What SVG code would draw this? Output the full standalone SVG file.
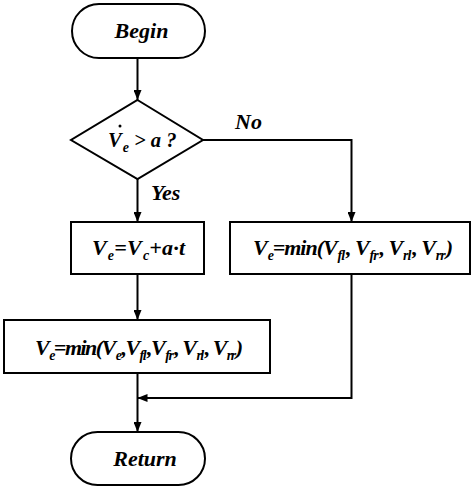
<svg xmlns="http://www.w3.org/2000/svg" width="474" height="490" viewBox="0 0 474 490">
  <style>
    .shape { fill: #ffffff; stroke: #000000; stroke-width: 2; }
    .wire { fill: none; stroke: #000000; stroke-width: 2; }
    .t { font-family: "Liberation Serif", "Times New Roman", serif; font-weight: bold; font-style: italic; font-size: 22px; fill: #000000; }
    .sub { font-size: 14px; }
    .cond { font-size: 20.5px; }
  </style>
  <defs>
    <marker id="arrow" viewBox="0 0 10 8" refX="10" refY="4" markerWidth="10" markerHeight="8" markerUnits="userSpaceOnUse" orient="auto">
      <path d="M0,0 L10,4 L0,8 Z" fill="#000000"/>
    </marker>
  </defs>

  <rect width="474" height="490" fill="#ffffff"/>

  <!-- connectors -->
  <g id="connectors">
    <path class="wire" d="M137.5,58 V100" marker-end="url(#arrow)"/>
    <path class="wire" d="M137.5,179 V222" marker-end="url(#arrow)"/>
    <path class="wire" d="M203,140 H351.5 V222" marker-end="url(#arrow)"/>
    <path class="wire" d="M137.5,274 V320" marker-end="url(#arrow)"/>
    <path class="wire" d="M351.5,274 V398 H137.5" marker-end="url(#arrow)"/>
    <path class="wire" d="M137.5,373 V432" marker-end="url(#arrow)"/>
    <text class="t" x="235" y="129">No</text>
    <text class="t" x="151" y="200">Yes</text>
  </g>

  <!-- start terminator -->
  <g id="begin">
    <rect class="shape" x="72" y="4" width="133" height="54" rx="27" ry="27"/>
    <text class="t" x="141.5" y="38" text-anchor="middle">Begin</text>
  </g>

  <!-- decision -->
  <g id="decision">
    <polygon class="shape" points="137.5,100 203,140 137.5,179 71,140"/>
    <text class="t cond" x="108" y="147">V<tspan class="sub" dx="1" dy="5">e</tspan><tspan dy="-5"> &gt; a ?</tspan></text>
    <circle cx="120" cy="126" r="1.5" fill="#000000"/>
  </g>

  <!-- accelerate branch -->
  <g id="accel">
    <rect class="shape" x="71" y="222" width="133" height="52"/>
    <text class="t" x="92" y="255" textLength="93" lengthAdjust="spacing">V<tspan class="sub" dx="1" dy="5">e</tspan><tspan dy="-5">=V</tspan><tspan class="sub" dx="1" dy="5">c</tspan><tspan dy="-5">+a·t</tspan></text>
  </g>

  <!-- wheel speed minimum -->
  <g id="wheelmin">
    <rect class="shape" x="230" y="222" width="240" height="52"/>
    <text class="t" x="253" y="255" textLength="200" lengthAdjust="spacing">V<tspan class="sub" dx="1" dy="5">e</tspan><tspan dy="-5">=min(V</tspan><tspan class="sub" dx="1" dy="5">fl</tspan><tspan dx="2" dy="-5">, V</tspan><tspan class="sub" dx="1" dy="5">fr</tspan><tspan dx="2" dy="-5">, V</tspan><tspan class="sub" dx="1" dy="5">rl</tspan><tspan dx="2" dy="-5">, V</tspan><tspan class="sub" dx="1" dy="5">rr</tspan><tspan dx="1" dy="-5">)</tspan></text>
  </g>

  <!-- combined minimum -->
  <g id="combmin">
    <rect class="shape" x="4" y="320" width="266" height="53"/>
    <text class="t" x="35" y="355" textLength="208" lengthAdjust="spacing">V<tspan class="sub" dx="1" dy="5">e</tspan><tspan dy="-5">=min(V</tspan><tspan class="sub" dx="1" dy="5">e</tspan><tspan dx="1" dy="-5">,V</tspan><tspan class="sub" dx="1" dy="5">fl</tspan><tspan dx="2" dy="-5">,V</tspan><tspan class="sub" dx="1" dy="5">fr</tspan><tspan dx="2" dy="-5">, V</tspan><tspan class="sub" dx="1" dy="5">rl</tspan><tspan dx="2" dy="-5">, V</tspan><tspan class="sub" dx="1" dy="5">rr</tspan><tspan dx="1" dy="-5">)</tspan></text>
  </g>

  <!-- end terminator -->
  <g id="return">
    <rect class="shape" x="71" y="432" width="134" height="53" rx="26.5" ry="26.5"/>
    <text class="t" x="145" y="466" text-anchor="middle">Return</text>
  </g>
</svg>
